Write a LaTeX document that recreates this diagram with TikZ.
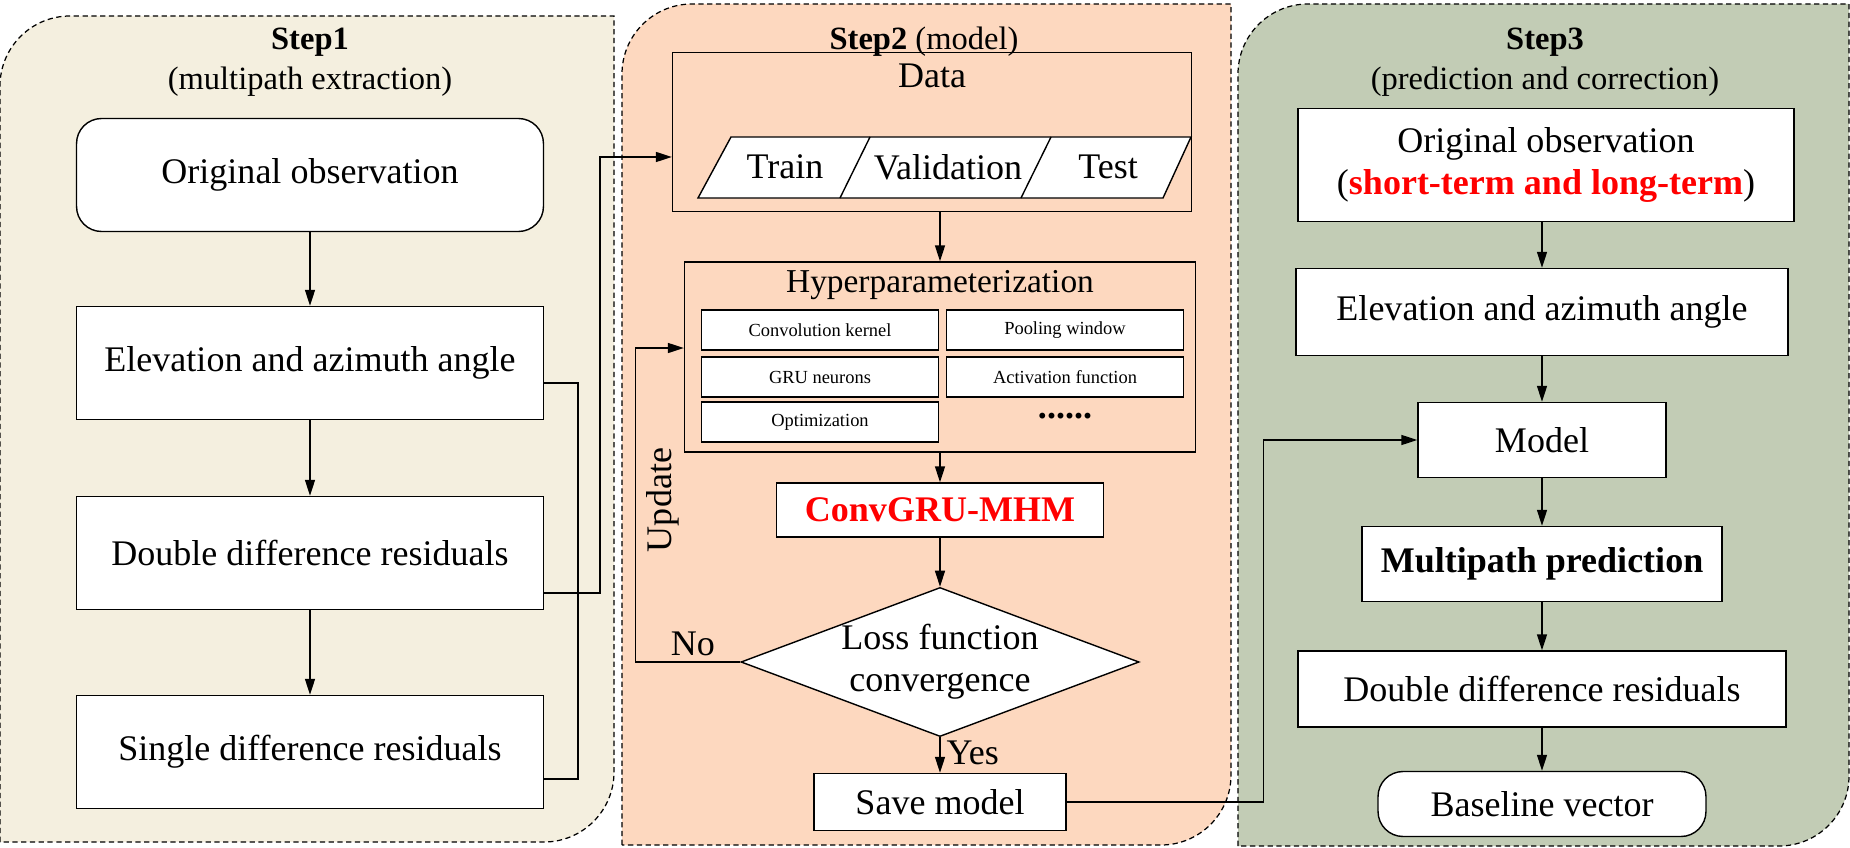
\documentclass[tikz,border=0pt]{standalone}
\usepackage{fontspec}
\setmainfont{Liberation Serif}
\usetikzlibrary{positioning,arrows.meta,shapes.geometric}
\definecolor{stepone}{HTML}{F4EFDF}
\definecolor{steptwo}{HTML}{FDD8BF}
\definecolor{stepthree}{HTML}{C2CCB5}
\newcommand{\bodyfont}{\fontsize{20.5}{24}\selectfont}
\begin{document}
\begin{tikzpicture}[x=0.02cm,y=-0.02cm,
			panel/.style={draw,densely dashed,line width=0.7pt},
			box/.style={draw,fill=white,rectangle,line width=0.8pt,inner sep=0pt,align=center,font=\bodyfont},
			rbox/.style={box,rounded corners=0.5cm},
			sbox/.style={box,minimum width=4.74cm,minimum height=0.8cm,font=\fontsize{10.5}{12}\selectfont},
			title/.style={font=\fontsize{18.5}{23}\selectfont,align=center},
			arr/.style={-{Triangle[length=0.32cm,width=0.2cm]},line width=0.8pt},
			line/.style={line width=0.8pt}]
			\useasboundingbox (0,0) rectangle (1850,848);
			% step panels
			\path[panel,fill=stepone] (0,842) [rounded corners=1.4cm] -- (0,16) [sharp corners] -- (614,16) [rounded corners=1.4cm] -- (614,842) [sharp corners] -- cycle;
			\path[panel,fill=steptwo] (622,845) [rounded corners=1.4cm] -- (622,4) [sharp corners] -- (1231,4) [rounded corners=1.4cm] -- (1231,845) [sharp corners] -- cycle;
			\path[panel,fill=stepthree] (1238,846) [rounded corners=1.4cm] -- (1238,4) [sharp corners] -- (1849,4) [rounded corners=1.4cm] -- (1849,846) [sharp corners] -- cycle;
			\node (tone) [title] at (310,62) {\textbf{Step1}\\(multipath extraction)};
			\node (ttwo) [title] at (924,42) {\textbf{Step2} (model)};
			\node (tthree) [title] at (1545,62) {\textbf{Step3}\\(prediction and correction)};

			% step 1
			\node (orig) [rbox,minimum width=9.34cm,minimum height=2.26cm] at (310,175) {Original observation};
			\node (elev) [box,minimum width=9.34cm,minimum height=2.26cm] at (310,363) {Elevation and azimuth angle};
			\node (ddres) [box,minimum width=9.34cm,minimum height=2.26cm] at (310,553) {Double difference residuals};
			\node (sdres) [box,minimum width=9.34cm,minimum height=2.26cm] at (310,752) {Single difference residuals};
			\draw[arr] (orig) -- (elev);
			\draw[arr] (elev) -- (ddres);
			\draw[arr] (ddres) -- (sdres);

			% step 2
			\node (data) [box,fill=none,minimum width=10.38cm,minimum height=3.18cm] at (932,132) {};
			\node [font=\bodyfont] at (932,76) {Data};
			\draw[line,fill=white] (698,198) -- (731,137) -- (1191,137) -- (1163,198) -- cycle;
			\draw[line] (840,198) -- (870,137);
			\draw[line] (1021,198) -- (1051,137);
			\node (train) [font=\bodyfont] at (785,167) {Train};
			\node (valid) [font=\bodyfont] at (948,167) {Validation};
			\node (test) [font=\bodyfont] at (1108,167) {Test};
			\node (hyper) [box,fill=none,minimum width=10.22cm,minimum height=3.8cm] at (940,357) {};
			\node [font=\fontsize{19}{22}\selectfont] at (940,285) {Hyperparameterization};
			\node (kern) [sbox] at (820,330) {Convolution kernel};
			\node (pool) [sbox] at (1065,330) {Pooling window};
			\node (gru) [sbox] at (820,377) {GRU neurons};
			\node (act) [sbox] at (1065,377) {Activation function};
			\node (opt) [sbox] at (820,422) {Optimization};
			\node (dots) [font=\bodyfont] at (1065,418) {\textbf{\raisebox{0.3ex}{......}}};
			\node (conv) [box,minimum width=6.54cm,minimum height=1.08cm,text=red,font=\bodyfont\bfseries] at (940,510) {ConvGRU-MHM};
			\node (loss) [box,diamond,shape aspect=2.67,minimum width=7.84cm,minimum height=2.94cm] at (940,662) {Loss function\\convergence};
			\node (save) [box,minimum width=5.04cm,minimum height=1.14cm] at (940,802) {Save model};
			\draw[arr] (data.south -| conv) -- (hyper.north -| conv);
			\draw[arr] (hyper.south -| conv) -- (conv);
			\draw[arr] (conv) -- (loss);
			\draw[arr] (loss) -- node[right,font=\bodyfont,pos=0.45] {Yes} (save);
			\draw[arr] (loss.west) -- node[above,font=\bodyfont,pos=0.45] {No} ++(-2.1cm,0) |- ([yshift=0.18cm]hyper.west);
			\node [rotate=90,font=\bodyfont] at (663,500) {Update};
			\draw[line] ([yshift=-0.4cm]elev.east) -- ++(0.68cm,0) |- ([yshift=-0.54cm]sdres.east);
			\draw[arr] ([yshift=-0.8cm]ddres.east) -- ++(1.12cm,0) |- ([yshift=-0.5cm]data.west);

			% step 3
			\node (origt) [box,minimum width=9.92cm,minimum height=2.26cm] at (1546,165) {Original observation\\(\textcolor{red}{\textbf{short-term and long-term}})};
			\node (elevt) [box,minimum width=9.84cm,minimum height=1.74cm] at (1542,312) {Elevation and azimuth angle};
			\node (model) [box,minimum width=4.96cm,minimum height=1.5cm] at (1542,440) {Model};
			\node (multi) [box,minimum width=7.2cm,minimum height=1.5cm,font=\bodyfont\bfseries] at (1542,564) {Multipath prediction};
			\node (ddrest) [box,minimum width=9.76cm,minimum height=1.52cm] at (1542,689) {Double difference residuals};
			\node (base) [rbox,minimum width=6.56cm,minimum height=1.3cm] at (1542,804) {Baseline vector};
			\draw[arr] (origt.south -| elevt) -- (elevt);
			\draw[arr] (elevt) -- (model);
			\draw[arr] (model) -- (multi);
			\draw[arr] (multi) -- (ddrest);
			\draw[arr] (ddrest) -- (base);
			\draw[arr] (save.east) -- ++(3.94cm,0) |- (model.west);
		\end{tikzpicture}
\end{document}
